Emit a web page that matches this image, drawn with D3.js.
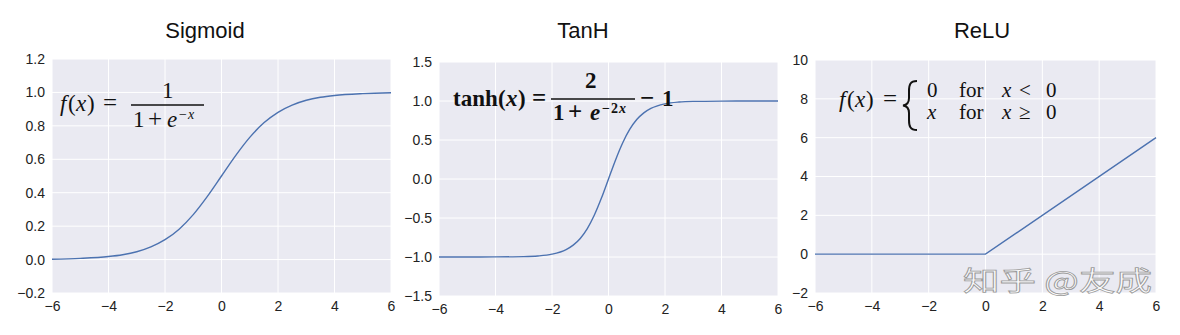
<!DOCTYPE html>
<html>
<head>
<meta charset="utf-8">
<script src="https://cdn.jsdelivr.net/npm/d3@7"></script>
<style>
  body { margin: 0; background: #fff; }
  .tick text { font-family: "Liberation Sans", Arial, sans-serif; font-size: 14px; fill: #222; }
  .math { font-family: "Liberation Serif", "Times New Roman", serif; fill: #111; }
</style>
</head>
<body>
<div id="chart"></div>
<script>
// ticks
const xTicks = [-6, -4, -2, 0, 2, 4, 6];
const sigmoidYTicks = [-0.2, 0, 0.2, 0.4, 0.6, 0.8, 1.0, 1.2];
const tanhYTicks = [-1.5, -1, -0.5, 0, 0.5, 1, 1.5];
const reluYTicks = [-2, 0, 2, 4, 6, 8, 10];

// curves
const sigmoidX = [-6, -5, -4, -3.5, -3, -2.5, -2, -1.5, -1, -0.5, 0, 0.5, 1, 1.5, 2, 2.5, 3, 3.5, 4, 5, 6];
const sigmoidY = [0.002, 0.007, 0.018, 0.029, 0.047, 0.076, 0.119, 0.182, 0.269, 0.378, 0.5, 0.622, 0.731, 0.818, 0.881, 0.924, 0.953, 0.971, 0.982, 0.993, 0.998];

const tanhX = [-6, -5, -4, -3, -2.5, -2, -1.5, -1.25, -1, -0.75, -0.5, -0.25, 0, 0.25, 0.5, 0.75, 1, 1.25, 1.5, 2, 2.5, 3, 4, 5, 6];
const tanhY = [-1, -1, -0.999, -0.995, -0.987, -0.964, -0.905, -0.848, -0.762, -0.635, -0.462, -0.245, 0, 0.245, 0.462, 0.635, 0.762, 0.848, 0.905, 0.964, 0.987, 0.995, 0.999, 1, 1];

const reluX = [-6, 0, 6];
const reluY = [0, 0, 6];

const titles = ['Sigmoid', 'TanH', 'ReLU'];

const panels = [
    {title: titles[0], titleX: 205, left: 52, right: 391, top: 59, bottom: 293, yDomain: [-0.2, 1.2], yTicks: sigmoidYTicks, fmt: d3.format('.1f'), xs: sigmoidX, ys: sigmoidY, curve: d3.curveMonotoneX},
    {title: titles[1], titleX: 583, left: 439, right: 778, top: 62, bottom: 296, yDomain: [-1.5, 1.5], yTicks: tanhYTicks, fmt: d3.format('.1f'), xs: tanhX, ys: tanhY, curve: d3.curveMonotoneX},
    {title: titles[2], titleX: 982, left: 815, right: 1156, top: 60, bottom: 293, yDomain: [-2, 10], yTicks: reluYTicks, fmt: d3.format('d'), xs: reluX, ys: reluY, curve: d3.curveLinear}
];

const svg = d3.select('#chart').append('svg')
    .attr('width', 1180)
    .attr('height', 335);

function drawPanel(p) {
    let x = d3.scaleLinear().domain([-6, 6]).range([p.left, p.right]);
    let y = d3.scaleLinear().domain(p.yDomain).range([p.bottom, p.top]);
    let g = svg.append('g');

    g.append('rect')
        .attr('x', p.left).attr('y', p.top)
        .attr('width', p.right - p.left).attr('height', p.bottom - p.top)
        .attr('fill', '#EAEAF2');

    // grid
    g.selectAll('.vgrid').data(xTicks).enter().append('line')
        .attr('x1', d => x(d)).attr('x2', d => x(d))
        .attr('y1', p.top).attr('y2', p.bottom)
        .attr('stroke', '#fff').attr('stroke-width', 1);
    g.selectAll('.hgrid').data(p.yTicks).enter().append('line')
        .attr('x1', p.left).attr('x2', p.right)
        .attr('y1', d => y(d)).attr('y2', d => y(d))
        .attr('stroke', '#fff').attr('stroke-width', 1);

    g.append('g')
        .attr('transform', 'translate(0,' + p.bottom + ')')
        .call(d3.axisBottom(x).tickValues(xTicks).tickSize(0).tickPadding(8).tickFormat(d3.format('d')))
        .call(a => a.select('.domain').remove())
        .attr('font-family', null).attr('font-size', null);

    g.append('g')
        .attr('transform', 'translate(' + p.left + ',0)')
        .call(d3.axisLeft(y).tickValues(p.yTicks).tickSize(0).tickPadding(7).tickFormat(p.fmt))
        .call(a => a.select('.domain').remove())
        .attr('font-family', null).attr('font-size', null);

    let pts = p.xs.map((v, i) => [v, p.ys[i]]);
    g.append('path')
        .datum(pts)
        .attr('fill', 'none')
        .attr('stroke', '#4C72B0')
        .attr('stroke-width', 1.4)
        .attr('d', d3.line().x(d => x(d[0])).y(d => y(d[1])).curve(p.curve));

    svg.append('text')
        .attr('x', p.titleX).attr('y', 38)
        .attr('text-anchor', 'middle')
        .attr('font-family', '"Liberation Sans", Arial, sans-serif')
        .attr('font-size', 22)
        .attr('fill', '#111')
        .text(p.title);
}

panels.forEach(drawPanel);

// formulas: parts are [text, x] pairs, a leading "_" means italic
function mt(y, parts, size, weight) {
    let t = svg.append('text').attr('class', 'math')
        .attr('y', y)
        .attr('font-size', size || 23)
        .attr('font-weight', weight || 'normal');
    parts.forEach(([s, px, fs]) => {
        let it = s.startsWith('_');
        let sp = t.append('tspan').attr('x', px).attr('y', y)
            .attr('font-style', it ? 'italic' : 'normal')
            .text(it ? s.slice(1) : s);
        if (fs) sp.attr('font-size', fs);
    });
    return t;
}
function bar(x1, x2, y) {
    svg.append('line').attr('x1', x1).attr('x2', x2).attr('y1', y).attr('y2', y)
        .attr('stroke', '#111').attr('stroke-width', 1.4);
}

// sigmoid
mt(111, [['_f', 60], ['(', 68], ['_x', 76], [')', 87], ['=', 103, 25]]);
mt(98, [['1', 162]]);
bar(131, 204, 105);
mt(127, [['1', 133], ['+', 148, 25], ['_e', 167]]);
mt(119, [['\u2212', 179], ['_x', 188]], 14);

// tanh
mt(106, [['tanh', 453], ['(', 498], ['_x', 506], [')', 518], ['=', 532, 25]], 23, 'bold');
mt(88, [['2', 585]], 23, 'bold');
bar(551, 635, 99);
mt(120, [['1', 553], ['+', 568, 25], ['_e', 590]], 23, 'bold');
mt(113, [['\u2212', 602], ['2', 611], ['_x', 619]], 14, 'bold');
mt(106, [['\u2212', 640, 25], ['1', 662]], 23, 'bold');

// relu
mt(107, [['_f', 839], ['(', 847], ['_x', 855], [')', 866], ['=', 883, 25]]);
svg.append('path')
    .attr('d', 'M917,81 C910,81 909,85 909,91 L909,98 C909,103 907,105 903,105.5 C907,106 909,108 909,113 L909,120 C909,126 910,130 917,130')
    .attr('fill', 'none').attr('stroke', '#111').attr('stroke-width', 2);
mt(97, [['0', 927], ['for', 959], ['_x', 1002], ['<', 1019], ['0', 1046]], 21);
mt(119, [['_x', 927], ['for', 959], ['_x', 1002], ['\u2265', 1019], ['0', 1046]], 21);

// watermark
svg.append('text')
    .attr('x', 963).attr('y', 291)
    .attr('font-family', '"Noto Sans CJK SC", sans-serif')
    .attr('font-size', 27)
    .attr('textLength', 189)
    .attr('lengthAdjust', 'spacingAndGlyphs')
    .attr('fill', 'rgba(255,255,255,0.88)')
    .attr('stroke', '#9a9a9a')
    .attr('stroke-width', 0.8)
    .text('知乎 @友成');
</script>
</body>
</html>
